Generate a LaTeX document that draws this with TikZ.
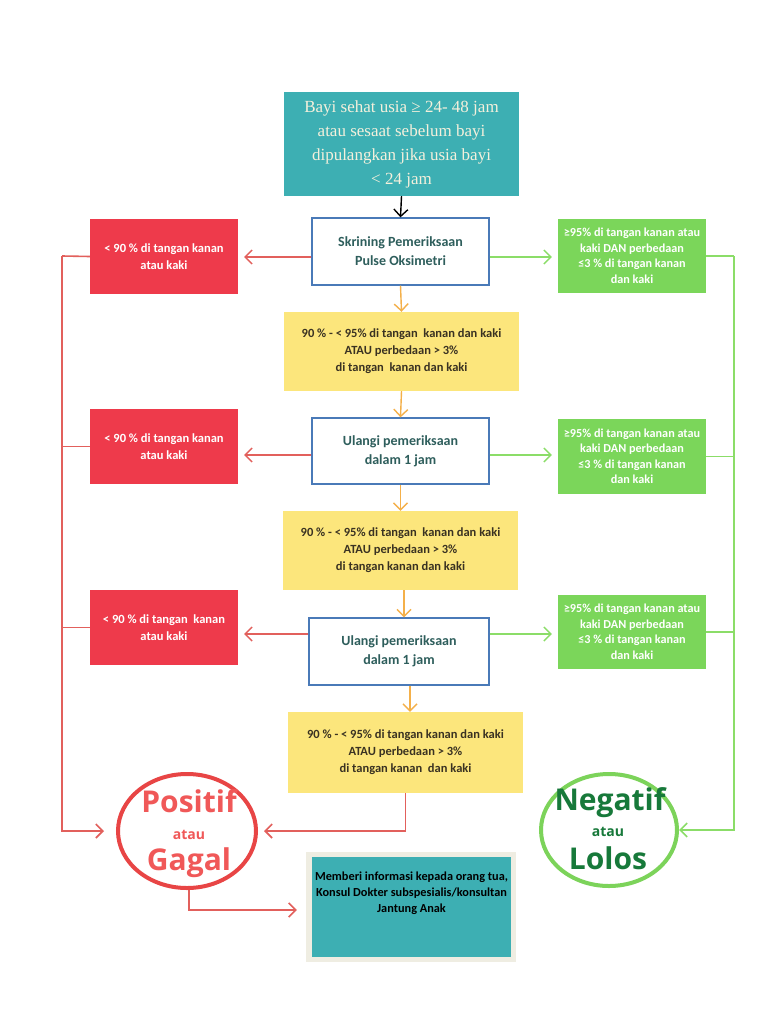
\documentclass[tikz,border=0pt]{standalone}
\usepackage{fontspec}
\setmainfont{Carlito}
\newfontfamily\serifbox{Liberation Serif}
\newfontfamily\bigsans{Open Sans}
\usetikzlibrary{arrows.meta,shapes.geometric}
\definecolor{tealbox}{HTML}{3DAFB3}
\definecolor{creamtext}{HTML}{F4F0DC}
\definecolor{blueline}{HTML}{4A7AB8}
\definecolor{skrtext}{HTML}{2E5E5C}
\definecolor{redbox}{HTML}{EE3A4B}
\definecolor{redline}{HTML}{E2605C}
\definecolor{greenbox}{HTML}{7BD65A}
\definecolor{greenline}{HTML}{8BDD68}
\definecolor{yellowbox}{HTML}{FCE67C}
\definecolor{orangeline}{HTML}{F4B04A}
\definecolor{darktext}{HTML}{3A3222}
\definecolor{posred}{HTML}{E84545}
\definecolor{postext}{HTML}{F05858}
\definecolor{neggreen}{HTML}{7CD35A}
\definecolor{negtext}{HTML}{17793A}
\definecolor{creambox}{HTML}{EFEDE2}
\tikzset{
  barb/.style={-{Straight Barb[length=7pt,width=14pt]}},
  checkbox/.style={draw=blueline,line width=1.3pt,fill=white,minimum width=177pt,minimum height=67pt,
    align=center,text=skrtext,font=\fontsize{14}{19}\selectfont\bfseries,inner sep=0pt},
  failbox/.style={fill=redbox,minimum width=148pt,minimum height=75pt,align=center,text=white,
    font=\fontsize{12.5}{17}\selectfont\bfseries,inner sep=0pt},
  passbox/.style={fill=greenbox,minimum width=148pt,minimum height=74pt,align=center,text=white,
    font=\fontsize{12.2}{15.5}\selectfont\bfseries,inner sep=0pt},
  midbox/.style={fill=yellowbox,minimum width=235pt,minimum height=79pt,align=center,text=darktext,
    font=\fontsize{12.5}{17}\selectfont\bfseries,inner sep=0pt},
  redarrow/.style={draw=redline,line width=1.4pt,barb},
  greenarrow/.style={draw=greenline,line width=1.4pt,barb},
  orangearrow/.style={draw=orangeline,line width=1.4pt,barb},
  redpath/.style={draw=redline,line width=1.6pt},
  greenpath/.style={draw=greenline,line width=1.6pt},
}
\begin{document}
\begin{tikzpicture}[x=1pt,y=-1pt]
\useasboundingbox (0,0) rectangle (768,1024);
\fill[white] (0,0) rectangle (768,1024);

% top box
\node[fill=tealbox,minimum width=235pt,minimum height=104pt,inner sep=0pt,align=center,text=creamtext,
  font=\serifbox\fontsize{17}{24}\selectfont] (top) at (401.5,144)
  {Bayi sehat usia ≥ 24- 48 jam\\atau sesaat sebelum bayi\\dipulangkan jika usia bayi\\< 24 jam};

% column of checks
\node[checkbox] (s1) at (400.5,251.5) {Skrining Pemeriksaan\\Pulse Oksimetri};
\node[midbox] (y1) at (401.5,351.5) {90 \% - < 95\% di tangan \ kanan dan kaki\\ATAU perbedaan > 3\%\\di tangan \ kanan dan kaki};
\node[checkbox,minimum height=66pt] (s2) at (400.5,451) {Ulangi pemeriksaan\\dalam 1 jam};
\node[midbox] (y2) at (400.5,550.5) {90 \% - < 95\% di tangan \ kanan dan kaki\\ATAU perbedaan > 3\%\\di tangan kanan dan kaki};
\node[checkbox,minimum width=180pt] (s3) at (399,651.5) {Ulangi pemeriksaan\\dalam 1 jam};
\node[midbox,minimum height=81pt] (y3) at (405.5,752.5) {90 \% - < 95\% di tangan kanan dan kaki\\ATAU perbedaan > 3\%\\di tangan kanan \ dan kaki};

% fail boxes
\node[failbox] (r1) at (164,256.5) {< 90 \% di tangan kanan\\atau kaki};
\node[failbox] (r2) at (164,446.5) {< 90 \% di tangan kanan\\atau kaki};
\node[failbox] (r3) at (164,627.5) {< 90 \% di tangan \ kanan\\atau kaki};

% pass boxes
\node[passbox] (g1) at (632,256) {≥95\% di tangan kanan atau\\kaki DAN perbedaan\\≤3 \% di tangan kanan\\dan kaki};
\node[passbox,minimum height=75pt] (g2) at (632,456.5) {≥95\% di tangan kanan atau\\kaki DAN perbedaan\\≤3 \% di tangan kanan\\dan kaki};
\node[passbox] (g3) at (632,632) {≥95\% di tangan kanan atau\\kaki DAN perbedaan\\≤3 \% di tangan kanan\\dan kaki};

% result circles
\node[ellipse,draw=posred,line width=4pt,minimum width=138pt,minimum height=114pt,inner sep=0pt] (pos) at (187,831) {};
\node[anchor=base,text=postext,font=\bigsans\bfseries\fontsize{30}{30}\selectfont,inner sep=0pt] (posa) at (189,812) {Positif};
\node[anchor=base,text=postext,font=\bigsans\bfseries\fontsize{14}{14}\selectfont,inner sep=0pt] (posb) at (189,839) {atau};
\node[anchor=base,text=postext,font=\bigsans\bfseries\fontsize{30}{30}\selectfont,inner sep=0pt] (posc) at (189,870) {Gagal};

\node[ellipse,draw=neggreen,line width=4pt,minimum width=136pt,minimum height=112pt,inner sep=0pt] (neg) at (609,830) {};
\node[anchor=base,text=negtext,font=\bigsans\bfseries\fontsize{30}{30}\selectfont,inner sep=0pt] (nega) at (610,810) {Negatif};
\node[anchor=base,text=negtext,font=\bigsans\bfseries\fontsize{14}{14}\selectfont,inner sep=0pt] (negb) at (608,836) {atau};
\node[anchor=base,text=negtext,font=\bigsans\bfseries\fontsize{30}{30}\selectfont,inner sep=0pt] (negc) at (608,869) {Lolos};

% final info box
\node[fill=creambox,minimum width=210pt,minimum height=110pt,inner sep=0pt] (infoout) at (411,907) {};
\node[fill=tealbox,minimum width=199pt,minimum height=100pt,inner sep=0pt] (info) at (411.5,907) {};
\node[anchor=north,align=center,text=black,font=\fontsize{12.3}{16}\selectfont\bfseries,inner sep=0pt] (infotext) at (411.5,872)
  {Memberi informasi kepada orang tua,\\Konsul Dokter subspesialis/konsultan\\Jantung Anak};

% vertical arrows
\draw[line width=1.4pt,black,barb] (top.south) -- (s1.north);
\draw[orangearrow] (s1.south) -- (y1.north);
\draw[orangearrow] (y1.south) -- (s2.north);
\draw[orangearrow] (s2.south) -- (y2.north);
\draw[orangearrow] ([xshift=3.5pt]y2.south) -- ([xshift=5pt]s3.north);
\draw[orangearrow] ([xshift=11pt]s3.south) -- ([xshift=4.5pt]y3.north);

% horizontal arrows
\draw[redarrow,shorten >=6pt] ([yshift=-5.5pt]s1.west) -- ([yshift=-5.5pt]s1.west -| r1.east);
\draw[redarrow,shorten >=6pt] ([yshift=-4pt]s2.west) -- ([yshift=-4pt]s2.west -| r2.east);
\draw[redarrow,shorten >=6pt] ([yshift=17.5pt]s3.west) -- ([yshift=17.5pt]s3.west -| r3.east);
\draw[greenarrow,shorten >=6pt] ([yshift=-5.5pt]s1.east) -- ([yshift=-5.5pt]s1.east -| g1.west);
\draw[greenarrow,shorten >=6pt] ([yshift=-4pt]s2.east) -- ([yshift=-4pt]s2.east -| g2.west);
\draw[greenarrow,shorten >=6pt] ([yshift=17.5pt]s3.east) -- ([yshift=17.5pt]s3.east -| g3.west);

% left collector
\coordinate (lc) at (62,256);
\draw[redpath] (r1.west) -- (lc);
\draw[redpath] (r2.west) -- (r2.west -| lc);
\draw[redpath] (r3.west) -- (r3.west -| lc);
\draw[redpath,barb,shorten >=12pt] (lc) |- (pos.west);
\draw[redpath,barb,shorten >=6pt] (y3.south) |- (pos.east);

% right collector
\coordinate (rc) at (734,256);
\draw[greenpath] (g1.east) -- (rc);
\draw[greenpath] (g2.east) -- (g2.east -| rc);
\draw[greenpath] (g3.east) -- (g3.east -| rc);
\draw[greenpath,barb] (rc) |- (neg.east);

% to info box
\draw[redpath,barb,shorten >=9pt] ([xshift=2pt]pos.south) |- ([yshift=-3pt]infoout.west);
\end{tikzpicture}
\end{document}
